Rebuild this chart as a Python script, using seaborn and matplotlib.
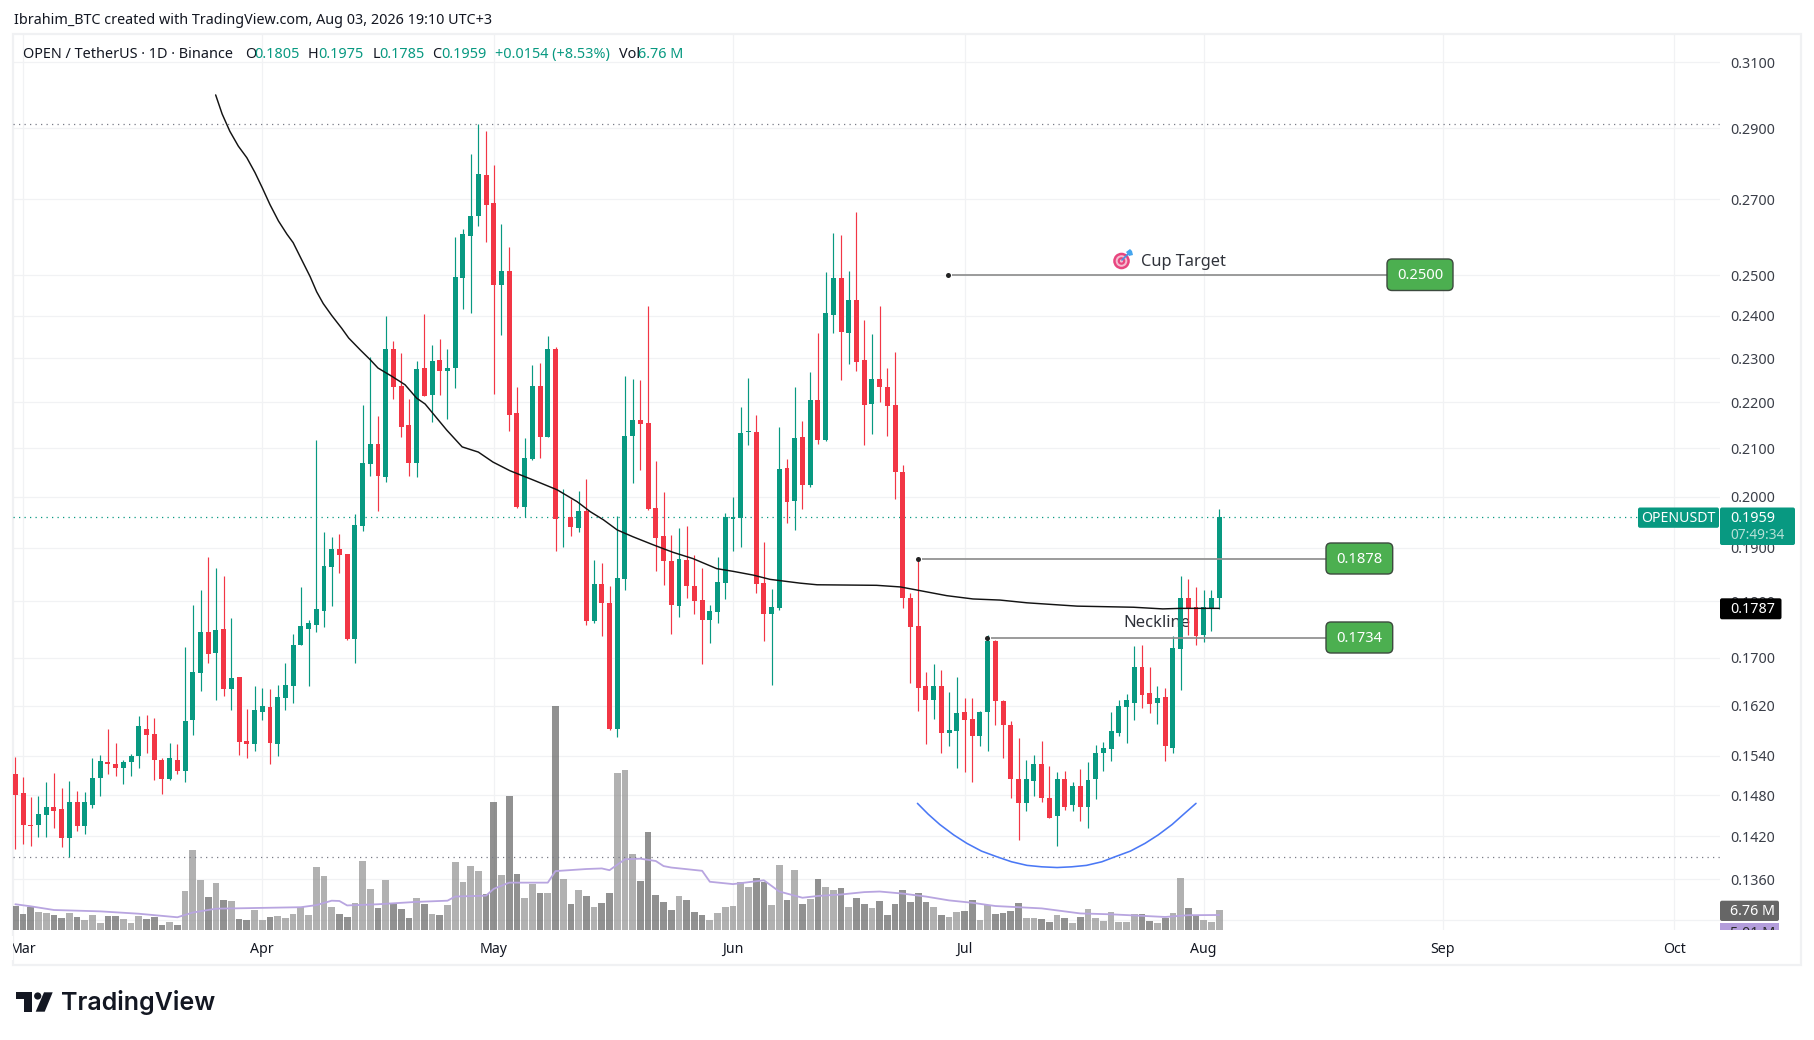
import numpy as np
import pandas as pd
import seaborn as sns
import matplotlib
matplotlib.use("Agg")
import matplotlib.pyplot as plt
from matplotlib.patches import FancyBboxPatch, Rectangle, Circle, Polygon
from matplotlib.lines import Line2D
from matplotlib.ticker import NullLocator, FixedLocator, FixedFormatter
from matplotlib.transforms import Affine2D, Bbox

# ---------- data ----------
first_date = "2026-02-28"
opens = [.1512,.1484,.1437,.1436,.1451,.1463,.1459,.1418,.1470,.1435,.1466,.1506,.1530,.1528,.1522,.1530,.1540,.1583,.1575,.1534,
         .1504,.1534,.1516,.1597,.1674,.1745,.1708,.1750,.1647,.1667,.1563,.1558,.1610,.1617,.1558,.1632,.1652,.1723,.1751,.1757,
         .1782,.1864,.1898,.1887,.1733,.1942,.2067,.2109,.2040,.2322,.2236,.2149,.2070,.2278,.2217,.2296,.2271,.2276,.2493,.2601,
         .2654,.2765,.2688,.2476,.2511,.2175,.1979,.2078,.2237,.2125,.2322,.1955,.1959,.1938,.1971,.1765,.1832,.1797,.1582,.1841,
         .2127,.2161,.2155,.1977,.1922,.1875,.1792,.1877,.1828,.1802,.1767,.1781,.1833,.1955,.1958,.2134,.2135,.1834,.1776,.1788,
         .2059,.1991,.2125,.2024,.2205,.2118,.2403,.2493,.2359,.2438,.2296,.2196,.2251,.2234,.2194,.2051,.1806,.1756,.1652,.1629,
         .1652,.1576,.1579,.1609,.1598,.1571,.1609,.1729,.1627,.1589,.1505,.1469,.1501,.1527,.1476,.1449,.1505,.1466,.1494,.1463,
         .1504,.1544,.1550,.1576,.1617,.1625,.1685,.1641,.1624,.1634,.1552,.1715,.1806,.1789,.1739,.1788,.1805]
highs = [.1539,.1507,.1478,.1479,.1500,.1513,.1491,.1502,.1487,.1485,.1537,.1542,.1582,.1560,.1534,.1543,.1603,.1604,.1600,.1537,
         .1560,.1558,.1719,.1793,.1821,.1882,.1861,.1847,.1770,.1668,.1615,.1652,.1649,.1647,.1654,.1691,.1742,.1826,.1767,.2118,
         .1930,.1920,.1926,.1887,.1966,.2194,.2303,.2170,.2399,.2341,.2312,.2206,.2293,.2405,.2331,.2345,.2322,.2598,.2619,.2825,
         .2911,.2893,.2794,.2632,.2572,.2233,.2122,.2283,.2289,.2352,.2325,.2015,.1995,.2011,.2036,.1877,.1871,.1828,.1961,.2258,
         .2251,.2249,.2423,.2074,.2009,.1925,.1938,.1941,.1886,.1862,.1793,.1882,.1967,.1999,.2190,.2254,.2171,.1910,.1823,.2146,
         .2078,.2235,.2159,.2267,.2359,.2508,.2609,.2603,.2511,.2664,.2389,.2357,.2423,.2278,.2315,.2065,.1815,.1878,.1676,.1689,
         .1679,.1642,.1667,.1632,.1632,.1611,.1739,.1731,.1629,.1595,.1568,.1534,.1542,.1563,.1524,.1515,.1516,.1500,.1520,.1530,
         .1557,.1562,.1609,.1630,.1639,.1720,.1722,.1684,.1652,.1649,.1738,.1847,.1841,.1825,.1821,.1821,.1975]
lows = [.1402,.1409,.1406,.1419,.1419,.1432,.1405,.1391,.1428,.1424,.1461,.1479,.1512,.1509,.1497,.1509,.1521,.1545,.1503,.1482,
        .1503,.1512,.1500,.1572,.1644,.1692,.1629,.1636,.1613,.1542,.1537,.1548,.1596,.1527,.1540,.1613,.1624,.1723,.1652,.1745,
        .1754,.1791,.1851,.1730,.1692,.1932,.2042,.1971,.2030,.2208,.2124,.2042,.2040,.2213,.2157,.2217,.2164,.2232,.2416,.2406,
        .2627,.2585,.2219,.2354,.2138,.1977,.1959,.2076,.2080,.2123,.1893,.1901,.1922,.1930,.1758,.1760,.1737,.1581,.1569,.1820,
        .2028,.2055,.1973,.1856,.1830,.1742,.1772,.1806,.1777,.1690,.1726,.1760,.1804,.1893,.1901,.2107,.1814,.1729,.1654,.1784,
        .1948,.1933,.1975,.2020,.2110,.2116,.2359,.2249,.2287,.2271,.2107,.2131,.2201,.2127,.1995,.1788,.1657,.1611,.1558,.1598,
        .1544,.1555,.1521,.1515,.1500,.1555,.1547,.1588,.1537,.1476,.1415,.1456,.1479,.1470,.1446,.1406,.1458,.1456,.1442,.1432,
        .1475,.1517,.1532,.1571,.1560,.1597,.1616,.1608,.1590,.1532,.1545,.1645,.1740,.1723,.1728,.1746,.1785]
closes = [.1481,.1436,.1435,.1453,.1463,.1457,.1418,.1470,.1435,.1470,.1506,.1532,.1528,.1522,.1531,.1540,.1587,.1572,.1533,.1504,
          .1536,.1516,.1595,.1676,.1745,.1707,.1749,.1647,.1666,.1561,.1558,.1613,.1619,.1560,.1634,.1654,.1723,.1756,.1761,.1785,
          .1865,.1897,.1885,.1733,.1944,.2070,.2109,.2042,.2322,.2235,.2145,.2070,.2275,.2214,.2294,.2271,.2278,.2496,.2606,.2654,
          .2768,.2685,.2476,.2511,.2172,.1979,.2080,.2237,.2125,.2322,.1955,.1956,.1940,.1971,.1765,.1832,.1796,.1582,.1843,.2127,
          .2161,.2153,.1975,.1918,.1875,.1793,.1878,.1827,.1801,.1767,.1783,.1836,.1959,.1959,.2133,.2136,.1832,.1776,.1790,.2057,
          .1989,.2122,.2024,.2205,.2118,.2406,.2493,.2361,.2438,.2292,.2194,.2251,.2233,.2192,.2051,.1806,.1754,.1649,.1629,.1652,
          .1576,.1581,.1608,.1597,.1571,.1609,.1729,.1627,.1588,.1504,.1469,.1504,.1527,.1476,.1447,.1505,.1463,.1494,.1463,.1503,
          .1545,.1552,.1579,.1619,.1629,.1685,.1637,.1622,.1632,.1555,.1717,.1806,.1788,.1737,.1789,.1806,.1959]
volumes = [8.0,5.38,7.72,6.07,5.66,4.97,4.0,5.66,4.28,3.31,4.97,2.34,4.69,4.69,3.59,2.34,4.69,3.59,4.28,1.66,
           2.62,1.66,13.1,27.0,16.8,11.0,15.9,10.1,9.8,3.59,3.31,6.76,3.31,4.28,4.69,4.0,5.38,7.72,4.97,21.2,
           18.2,7.72,5.38,4.28,9.1,23.3,13.8,7.31,16.8,9.1,7.03,4.0,10.8,8.8,5.4,5.07,8.45,23.0,16.2,21.6,
           19.9,12.2,43.2,18.6,45.3,18.9,10.8,15.5,12.5,12.5,75.7,17.2,8.8,13.5,11.5,7.8,9.1,12.5,53.0,54.0,
           25.7,16.6,33.1,11.8,9.5,6.8,11.5,10.1,6.1,5.07,3.4,5.7,7.8,8.1,16.2,14.5,17.6,16.2,8.45,22.0,
           10.1,20.3,8.8,10.5,17.2,14.5,13.5,14.2,7.8,10.8,8.8,7.4,9.8,5.07,8.8,13.5,9.5,12.5,9.5,7.8,
           5.07,4.4,6.1,6.4,10.1,3.4,8.45,5.4,5.7,6.4,9.1,4.05,4.05,3.7,2.7,5.07,4.05,2.4,4.4,7.1,
           4.05,3.0,6.1,2.7,2.7,5.4,5.4,3.0,2.4,4.05,5.7,17.6,7.4,5.07,3.4,2.7,6.76]

ma_days = [25.96,26.8,27.8,28.9,30,31.06,32,33,34.1,35.2,36,37.1,38.2,39.05,39.9,41,42.3,43.2,44.7,46,47,48.8,50.5,52,53.1,
           55.9,57.9,60,61.9,64.1,67.1,70.2,72.8,74.5,76.2,78,80,82.7,85.2,87.8,90.9,93,95.6,97.8,101.7,103.9,111.6,114.7,120.7,124.1,127.6,131.1,137.6,144.9,148.7,151,156]
ma_vals = [.2999,.2942,.2891,.2848,.2815,.2773,.2731,.2685,.2641,.2606,.2584,.2540,.2497,.2459,.2430,.2401,.2370,.2347,.2319,.2296,.2277,.2258,.2239,.2209,.2196,
           .2139,.2103,.2092,.2071,.2053,.2034,.2014,.1990,.1970,.1954,.1934,.1921,.1905,.1891,.1879,.1860,.1855,.1848,.1840,.1833,.1830,.1829,.1826,.1810,.1804,.1802,.1797,.1791,.1789,.1786,.1787,.1787]

vol_ma_days = [0,2,5,11,16,21,23,26,37,39,41,42,43,47,52,56,57,61,62,64,69,70,74,76,77,79,81,83,84,85,89,90,93,97,99,102,104,107,110,112,115,118,121,124,127,133,138,142,149,152,156]
vol_ma_vals = [8.7,8.0,6.76,6.3,5.5,4.3,5.9,7.2,7.7,8.4,9.9,9.8,8.3,8.7,9.5,9.9,11.3,11.6,13.9,16.0,16.0,19.9,20.6,20.8,20.2,23.9,24.1,23.3,21.6,21.1,20.0,16.3,15.5,16.8,13.0,10.9,11.5,12.0,12.8,13.0,12.3,11.3,10.0,9.2,8.1,7.3,5.6,5.3,4.4,5.0,5.07]

cup_days = [116.9,118.3,119.8,121.6,123.3,125.2,127.2,129.1,131.1,133,135,136.9,138.8,140.8,142.5,144.5,146.4,148.1,149.9,151.4,153]
cup_vals = [.1468,.1452,.1437,.1422,.1410,.1399,.1391,.1384,.1379,.1377,.1376,.1377,.1379,.1384,.1391,.1399,.1410,.1422,.1437,.1452,.1468]

price_ticks = [.31,.29,.27,.25,.24,.23,.22,.21,.20,.19,.18,.17,.162,.154,.148,.142,.136,.1305]
price_labels = ["0.3100","0.2900","0.2700","0.2500","0.2400","0.2300","0.2200","0.2100","0.2000","0.1900","0.1800","0.1700","0.1620","0.1540","0.1480","0.1420","0.1360",""]
month_starts = ["2026-03-01","2026-04-01","2026-05-01","2026-06-01","2026-07-01","2026-08-01","2026-09-01","2026-10-01"]
month_labels = ["Mar","Apr","May","Jun","Jul","Aug","Sep","Oct"]

target_level, target_start, target_end = .2500, 120.9, 177.8
resist_level, resist_start, resist_end = .1878, 117.0, 169.9
neck_level, neck_start, neck_end = .1734, 125.9, 169.9
hi_level, lo_level, last_close, ma_last = .2911, .1390, .1959, .1787
vol_last, vol_ma_last = "6.76 M", "5.01 M"

# ---------- setup ----------
W, H = 1814, 1040
sns.set_theme(style="white")
FONT = ["Noto Sans", "DejaVu Sans"]
plt.rcParams["font.family"] = FONT
TXT = "#131722"; GREEN = "#089981"; RED = "#F23645"; GRID = "#f1f2f4"

fig = plt.figure(figsize=(W/100, H/100), dpi=100, facecolor="white")
px = Affine2D().scale(1, -1).translate(0, H)

def T(x, y, s, **kw):
    kw.setdefault("color", TXT); kw.setdefault("va", "center"); kw.setdefault("ha", "left")
    return fig.text(x/W, 1-(y+1.2)/H, s, **kw)

rect = [13/W, 1-930/H, (1720-13)/W, (930-34)/H]
ax_grid = fig.add_axes(rect, zorder=0)
ax_vol = fig.add_axes(rect, zorder=1)
ax = fig.add_axes(rect, zorder=2)
ax_vol.patch.set_alpha(0)
ax.patch.set_alpha(0)
start = pd.Timestamp(first_date)
dates = pd.date_range(first_date, periods=len(opens))
days = np.array((dates - start).days)
O, Hi, L, C = map(np.array, (opens, highs, lows, closes))
up = C >= O
XLIM = (-0.3, 220.9)
YLIM = (.1292, .3189)
month_pos = [(pd.Timestamp(d) - start).days for d in month_starts]

# grid, underneath the semi-transparent volume bars
ax_grid.set_yscale("log")
ax_grid.set_xlim(*XLIM); ax_grid.set_ylim(*YLIM)
ax_grid.yaxis.set_major_locator(FixedLocator(price_ticks))
ax_grid.yaxis.set_minor_locator(NullLocator())
ax_grid.set_xticks(month_pos)
ax_grid.grid(True, color=GRID, lw=.9)
ax_grid.tick_params(length=0, labelleft=False, labelbottom=False)
for s in ax_grid.spines.values():
    s.set_visible(False)

# volume
df_v = pd.DataFrame({"day": days, "volume": volumes, "dir": np.where(up, "up", "down")})
sns.barplot(data=df_v, x="day", y="volume", hue="dir", dodge=False, native_scale=True, width=0.87, gap=0,
            palette={"up": "#909090", "down": "#626262"}, saturation=1, alpha=.7, legend=False, ax=ax_vol, linewidth=0)
sns.lineplot(x=vol_ma_days, y=vol_ma_vals, color="#b8a5e0", lw=1.3, errorbar=None, ax=ax_vol)
ax_vol.set_xlim(*XLIM); ax_vol.set_ylim(0, 896/2.96)
ax_vol.axis("off")

# price pane
ax.set_yscale("log")
ax.set_xlim(*XLIM); ax.set_ylim(*YLIM)
ax.yaxis.tick_right()
ax.yaxis.set_major_locator(FixedLocator(price_ticks))
ax.yaxis.set_major_formatter(FixedFormatter(price_labels))
ax.yaxis.set_minor_locator(NullLocator())
ax.set_xticks(month_pos); ax.set_xticklabels(month_labels)
ax.tick_params(axis="y", length=0, pad=7.5, labelsize=10.3, labelcolor="#3a3e48")
ax.tick_params(axis="x", length=0, pad=8.8, labelsize=10.2, labelcolor=TXT)
for t in ax.get_xticklabels():
    t.set_fontweight("medium")
ax.grid(False)
for s in ax.spines.values():
    s.set_visible(False)

# dotted high / low / last lines
ax.axhline(hi_level, color="#787b86", lw=.9, ls=(0, (1, 3.4)), zorder=1.4)
ax.axhline(lo_level, color="#787b86", lw=.9, ls=(0, (1, 3.4)), zorder=1.4)
ax.plot([XLIM[0], 210.5], [last_close]*2, color=GREEN, lw=.9, ls=(0, (1, 3.4)), zorder=1.4)

# Neckline text below candles
ax.text(148, neck_level*1.0155, "Neckline", ha="center", va="center", fontsize=12, color="#2f323a", zorder=1.5)

# candles
colors = np.where(up, GREEN, RED)
wicks = ax.vlines(days, L, Hi, colors=colors, lw=.85, zorder=3)
wicks.set_snap(True)
body_lo = np.minimum(O, C); body_hi = np.maximum(O, C)
ax.bar(days, body_hi-body_lo, bottom=body_lo, width=.64, color=colors, linewidth=0, zorder=3.1)

# moving average and cup
sns.lineplot(x=ma_days, y=ma_vals, color="#131313", lw=1.05, errorbar=None, ax=ax, zorder=4)
sns.lineplot(x=cup_days, y=cup_vals, color="#4a78f5", lw=1.15, errorbar=None, ax=ax, zorder=4)

# level lines and dots
for lvl, a, b in [(target_level, target_start, target_end), (resist_level, resist_start, resist_end), (neck_level, neck_start, neck_end)]:
    ax.plot([a+.5, b], [lvl, lvl], color="#8f8f8f", lw=1.25, zorder=5, solid_capstyle="butt")
    ax.plot([a], [lvl], "o", ms=3.6, color="#222222", mew=0, zorder=5.1)
ax.set_xlabel(""); ax.set_ylabel("")

# outer frame
fig.add_artist(Rectangle((13, 34), 1788, 931, transform=px, fill=False, ec="#f0f1f3", lw=1.6))

def box(x0, y0, x1, y1, fc, ec="none", r=5, lw=0):
    fig.add_artist(FancyBboxPatch((x0+r, y0+r), x1-x0-2*r, y1-y0-2*r, boxstyle=f"round,pad={r}", transform=px, fc=fc, ec=ec, lw=lw, zorder=6))

# green price tags
for (x0, y0, x1, y1), lvl in [((1387, 259, 1453, 290.5), target_level), ((1326, 543, 1392.7, 574), resist_level), ((1326, 622, 1392.7, 653), neck_level)]:
    box(x0, y0, x1, y1, "#4caf50", ec="#3c4a3e", lw=1)
    T((x0+x1)/2, (y0+y1)/2, f"{lvl:.4f}", color="white", ha="center", fontsize=10.6, fontweight="medium", zorder=7)

# Cup Target
T(1141, 260.5, "Cup Target", fontsize=11.8, color="#2f323a", zorder=7)
for r, c in [(8.3, "#e8457f"), (5.8, "#f5bcd0"), (3.8, "#e8457f"), (1.6, "#f5bcd0")]:
    fig.add_artist(Circle((1121.5, 261), r, transform=px, fc=c, ec="none", zorder=7))
fig.add_artist(Line2D([1122, 1129], [260, 253], transform=px, color="#4a8fe0", lw=1.2, zorder=8))
fig.add_artist(Polygon([(1126, 252), (1130, 249), (1132, 251), (1133, 255), (1129, 256)], transform=px, fc="#45a5ee", ec="none", zorder=8))

# right side tags
box(1638, 507.5, 1719, 527.8, GREEN, r=2)
T(1678.5, 517, "OPENUSDT", color="white", ha="center", fontsize=10.2, zorder=7)
box(1720, 507.5, 1795, 545, GREEN, r=2)
T(1730.5, 517.5, f"{last_close:.4f}", color="white", fontsize=10.3, zorder=7)
T(1730.5, 534.5, "07:49:34", color="#b5e0d6", fontsize=9.9, zorder=7)
box(1720, 598.3, 1781.5, 619.3, "black", r=2)
T(1730.5, 608, f"{ma_last:.4f}", color="white", fontsize=10.3, zorder=7)
box(1720, 900.7, 1779, 921, "#666666", r=2)
T(1730.5, 910.5, vol_last, color="white", fontsize=10.3, zorder=7)
fig.add_artist(Rectangle((1720, 922.7), 59, 7.3, transform=px, fc="#b39ddb", ec="none", zorder=6))
t = T(1730.5, 932, vol_ma_last, color="#2a2a2a", fontsize=10.3, zorder=7)
t.set_clip_box(Bbox.from_extents(1700, H-930, 1800, H-900)); t.set_clip_on(True)

# header
T(13.5, 19.5, "Ibrahim_BTC created with TradingView.com, Aug 03, 2026 19:10 UTC+3", fontsize=10.35)
T(23, 53.5, "OPEN / TetherUS · 1D · Binance", fontsize=10.4)
for x, s, c in [(245, "O", TXT), (254.5, "0.1805", GREEN), (308, "H", TXT), (318, "0.1975", GREEN), (372.5, "L", TXT), (379, "0.1785", GREEN),
                (432.5, "C", TXT), (441.5, "0.1959", GREEN), (495, "+0.0154 (+8.53%)", GREEN), (619, "Vol", TXT), (638.5, "6.76 M", GREEN)]:
    T(x, 53.5, s, color=c, fontsize=10.4)

# logo
black = "#131722"
fig.add_artist(Polygon([(15.7, 992.3), (31.7, 992.3), (31.7, 1011.7), (24, 1011.7), (24, 999.3), (15.7, 999.3)], transform=px, fc=black, ec="none"))
fig.add_artist(Circle((37.7, 996), 3.6, transform=px, fc=black, ec="none"))
fig.add_artist(Polygon([(44, 992.3), (52.7, 992.3), (44.7, 1011.7), (35.7, 1011.7)], transform=px, fc=black, ec="none"))
T(61.5, 1001, "TradingView", fontsize=18, color=black, fontweight="semibold", family=["Inter", "DejaVu Sans"])

# left clip of the first month label
fig.add_artist(Rectangle((0, 936), 12.5, 24, transform=px, fc="white", ec="none", zorder=10))

fig.savefig("out.png", dpi=100, facecolor="white")
